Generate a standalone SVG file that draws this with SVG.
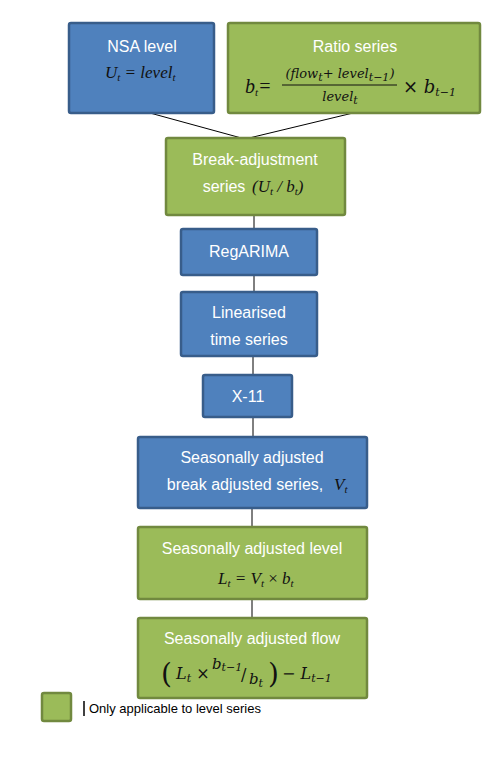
<svg xmlns="http://www.w3.org/2000/svg" width="495" height="758" viewBox="0 0 495 758">
<style>
.blue{fill:#4F81BD;stroke:#385D8A;stroke-width:2.5}
.green{fill:#9BBB59;stroke:#71893F;stroke-width:2.5}
.t{font-family:"Liberation Sans",Arial,sans-serif;font-size:16px;fill:#fff;text-anchor:middle}
.m{font-family:"Liberation Serif","Times New Roman",serif;font-style:italic;font-size:17px;fill:#111}
.mc{font-family:"DejaVu Serif","Liberation Serif",serif;font-style:italic;font-size:13px;fill:#111}
.s{font-size:11px}
.conn line{stroke:#000;stroke-width:1}
</style>
<rect width="495" height="758" fill="#fff"/>
<g class="conn">
<line x1="150" y1="113" x2="245" y2="139"/>
<line x1="353" y1="113" x2="245" y2="139"/>
<line x1="254" y1="215" x2="254" y2="229"/>
<line x1="254" y1="275" x2="254" y2="292"/>
<line x1="253" y1="356" x2="253" y2="375"/>
<line x1="253" y1="417" x2="253" y2="437"/>
<line x1="252" y1="508" x2="252" y2="527"/>
<line x1="252" y1="599" x2="252" y2="618"/>
</g>
<g id="nsa">
<rect class="blue" x="69" y="23" width="145" height="90" rx="2"/>
<text class="t" x="142" y="52">NSA level</text>
<text class="m" x="105" y="78">U<tspan class="s" dy="3">t</tspan><tspan dy="-3"> = level</tspan><tspan class="s" dy="3">t</tspan></text>
</g>
<g id="ratio">
<rect class="green" x="228" y="23" width="252" height="90" rx="2"/>
<text class="t" x="355" y="52">Ratio series</text>
<text class="m" x="245" y="93" style="font-size:20px">b<tspan class="s" dy="3">t</tspan><tspan dy="-3">=</tspan></text>
<text class="mc" x="340" y="78" text-anchor="middle">(flow<tspan class="s" dy="3">t</tspan><tspan dy="-3">+ level</tspan><tspan class="s" dy="3">t−1</tspan><tspan dy="-3">)</tspan></text>
<line x1="282" y1="85" x2="397" y2="85" stroke="#111" stroke-width="1"/>
<text class="mc" x="340" y="101" text-anchor="middle">level<tspan class="s" dy="3">t</tspan></text>
<text class="mc" x="403" y="93" style="font-size:18px;font-style:normal">× <tspan style="font-style:italic">b</tspan><tspan class="s" dy="3" style="font-style:italic">t−1</tspan></text>
</g>
<g id="break">
<rect class="green" x="166" y="138" width="179" height="77" rx="2"/>
<text class="t" x="255" y="165">Break-adjustment</text>
<text class="t" x="224" y="192">series</text>
<text class="m" x="252" y="192">(U<tspan class="s" dy="3">t</tspan><tspan dy="-3"> / b</tspan><tspan class="s" dy="3">t</tspan><tspan dy="-3">)</tspan></text>
</g>
<g id="regarima">
<rect class="blue" x="181" y="229" width="136" height="46" rx="2"/>
<text class="t" x="249" y="257">RegARIMA</text>
</g>
<g id="linearised">
<rect class="blue" x="181" y="292" width="136" height="64" rx="2"/>
<text class="t" x="249" y="318">Linearised</text>
<text class="t" x="249" y="345">time series</text>
</g>
<g id="x11">
<rect class="blue" x="203" y="375" width="89" height="42" rx="2"/>
<text class="t" x="248" y="402">X-11</text>
</g>
<g id="sabreak">
<rect class="blue" x="138" y="437" width="229" height="71" rx="2"/>
<text class="t" x="252" y="463">Seasonally adjusted</text>
<text class="t" x="245" y="490">break adjusted series,</text>
<text class="m" x="334" y="490" fill="#1a1a4a">V<tspan class="s" dy="3">t</tspan></text>
</g>
<g id="salevel">
<rect class="green" x="138" y="527" width="229" height="72" rx="2"/>
<text class="t" x="252" y="554">Seasonally adjusted level</text>
<text class="m" x="218" y="584">L<tspan class="s" dy="3">t</tspan><tspan dy="-3"> = V</tspan><tspan class="s" dy="3">t</tspan><tspan dy="-3" style="font-style:normal"> × </tspan><tspan>b</tspan><tspan class="s" dy="3">t</tspan></text>
</g>
<g id="saflow">
<rect class="green" x="138" y="618" width="229" height="80" rx="2"/>
<text class="t" x="252" y="644">Seasonally adjusted flow</text>
<text x="161" y="683" style="font-family:'DejaVu Serif',serif;font-size:28px;fill:#111">(</text>
<text class="mc" x="176" y="679" style="font-size:16px">L<tspan class="s" dy="3">t</tspan><tspan dy="-3" style="font-style:normal"> ×</tspan></text>
<text class="mc" x="212" y="669" style="font-size:15px">b<tspan class="s" dy="2">t−1</tspan></text>
<text class="mc" x="241" y="680" style="font-size:16px;font-style:normal">/</text>
<text class="mc" x="249" y="684" style="font-size:15px">b<tspan class="s" dy="3">t</tspan></text>
<text x="268" y="683" style="font-family:'DejaVu Serif',serif;font-size:28px;fill:#111">)</text>
<text class="mc" x="282" y="679" style="font-size:16px"><tspan style="font-style:normal">− </tspan>L<tspan class="s" dy="3">t−1</tspan></text>
</g>
<g id="legend">
<rect class="green" x="42" y="693" width="29" height="28" rx="2"/>
<line x1="84" y1="701" x2="84" y2="716" stroke="#000" stroke-width="1.5"/>
<text x="89" y="713" style="font-family:'Liberation Sans',Arial,sans-serif;font-size:13px;fill:#000">Only applicable to level series</text>
</g>
</svg>
